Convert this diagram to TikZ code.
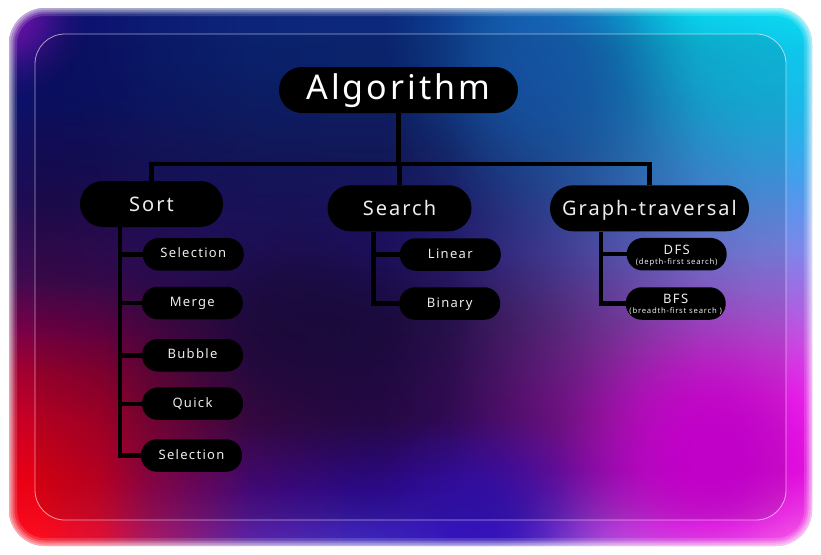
\documentclass[tikz,border=0pt]{standalone}
\usepackage{fontspec}
\setmainfont{Noto Sans}
\newfontfamily\lsfont[LetterSpace=10]{Noto Sans}
\newfontfamily\lsbig[LetterSpace=9]{Noto Sans}
\usetikzlibrary{fadings}
% smooth radial fading (opaque centre -> transparent at the circle's edge)
\pgfdeclareradialshading{blobsh}{\pgfpointorigin}{color(0bp)=(white); color(2.5bp)=(white!97!black);
  color(5bp)=(white!90!black); color(7.5bp)=(white!78!black); color(10bp)=(white!62!black);
  color(12.5bp)=(white!45!black); color(15bp)=(white!30!black); color(17.5bp)=(white!17!black);
  color(20bp)=(white!8!black); color(22.5bp)=(white!2!black); color(25bp)=(black); color(50bp)=(black)}
\pgfdeclarefading{sblob}{\pgfuseshading{blobsh}}
% horizontal fadings
\pgfdeclarehorizontalshading{flsh}{100bp}{color(0bp)=(white); color(29.75bp)=(white);
  color(36.9bp)=(white!85!black); color(42.86bp)=(white!55!black); color(54.76bp)=(white!15!black);
  color(66.67bp)=(white!2!black); color(75bp)=(black); color(100bp)=(black)}
\pgfdeclarefading{fadeL}{\pgfuseshading{flsh}}
\pgfdeclarehorizontalshading{frsh}{100bp}{color(0bp)=(black); color(25bp)=(black);
  color(33bp)=(white!8!black); color(44.25bp)=(white!38!black); color(55.5bp)=(white!72!black);
  color(61.5bp)=(white!88!black); color(68bp)=(white!97!black); color(75bp)=(white); color(100bp)=(white)}
\pgfdeclarefading{fadeR}{\pgfuseshading{frsh}}
% colour columns (bottom = 25bp, top = 75bp)
\definecolor{l0}{HTML}{0C1070}\definecolor{l1}{HTML}{0C1068}\definecolor{l2}{HTML}{1E0C52}
\definecolor{l3}{HTML}{400A50}\definecolor{l4}{HTML}{780048}\definecolor{l5}{HTML}{A00030}
\definecolor{l6}{HTML}{C80024}\definecolor{l7}{HTML}{E80014}\definecolor{l8}{HTML}{FF1020}
\pgfdeclareverticalshading{leftcol}{100bp}{color(0bp)=(l8); color(25bp)=(l8); color(31.68bp)=(l7);
  color(37.09bp)=(l6); color(41.61bp)=(l5); color(45.22bp)=(l4); color(49.73bp)=(l3);
  color(56.95bp)=(l2); color(65.97bp)=(l1); color(75bp)=(l0); color(100bp)=(l0)}
\definecolor{m0}{HTML}{0C2A80}\definecolor{m1}{HTML}{0C2878}\definecolor{m2}{HTML}{141C64}
\definecolor{m3}{HTML}{221470}\definecolor{m4}{HTML}{200E48}\definecolor{m5}{HTML}{2A0A50}
\definecolor{m6}{HTML}{2E0C98}\definecolor{m7}{HTML}{4030C8}
\pgfdeclareverticalshading{midcol}{100bp}{color(0bp)=(m7); color(25bp)=(m7); color(30.78bp)=(m6);
  color(37.09bp)=(m5); color(46.12bp)=(m4); color(52.44bp)=(m3); color(61.46bp)=(m2);
  color(69.58bp)=(m1); color(75bp)=(m0); color(100bp)=(m0)}
\definecolor{r0}{HTML}{00FFFF}\definecolor{r1}{HTML}{10D0F0}\definecolor{r2}{HTML}{20B8EC}
\definecolor{r3}{HTML}{48A0F0}\definecolor{r4}{HTML}{8088EC}\definecolor{r5}{HTML}{A868E4}
\definecolor{r6}{HTML}{D048E4}\definecolor{r7}{HTML}{EC28EC}\definecolor{r8}{HTML}{E818DC}
\definecolor{r9}{HTML}{FF78EC}
\pgfdeclareverticalshading{rightcol}{100bp}{color(0bp)=(r9); color(25bp)=(r9); color(32.58bp)=(r8);
  color(38.9bp)=(r7); color(43.41bp)=(r6); color(47.92bp)=(r5); color(52.44bp)=(r4);
  color(58.75bp)=(r3); color(65.97bp)=(r2); color(70.49bp)=(r1); color(75bp)=(r0); color(100bp)=(r0)}
\definecolor{txt}{HTML}{EDEDED}
\definecolor{bDark}{HTML}{1C0C40}
\definecolor{bBlue}{HTML}{1A5CB8}
\definecolor{bInd}{HTML}{3010B8}
\definecolor{bMag}{HTML}{D800E0}
\definecolor{bPur}{HTML}{6A10A8}
\definecolor{bCyan}{HTML}{10C0E8}
\newcommand\blob[4]{\fill[#1, path fading=sblob, fill opacity=#4] (#2) circle (#3pt);}
\tikzset{
  bigbox/.style={fill=black, rounded corners=22.9pt, minimum height=46pt, inner sep=0pt,
    text=txt, font=\lsfont\fontsize{20}{24}\selectfont, text height=14.3pt, text depth=0pt},
  smallbox/.style={fill=black, rounded corners=16pt, minimum height=32.5pt, minimum width=101pt,
    inner sep=0pt, text=txt, font=\lsfont\fontsize{13}{15}\selectfont, text height=7.3pt, text depth=0pt},
  twoline/.style={text height=0pt, text depth=0pt, minimum width=100pt},
  conn/.style={line width=4.4pt, black, line join=miter, line cap=butt}
}
\newcommand\twol[2]{\makebox[0pt]{#1}\makebox[0pt]{\raisebox{-10pt}{\fontsize{7.7}{8}\selectfont #2}}}
\begin{document}
\begin{tikzpicture}[x=1pt,y=-1pt]
\useasboundingbox (0,0) rectangle (821,554);
% background gradient
\begin{scope}
\clip[rounded corners=36pt] (9,8) rectangle (812,546);
\shade[shading=midcol] (0,0) rectangle (821,554);
\shade[shading=leftcol, path fading=fadeL] (0,0) rectangle (420,554);
\shade[shading=rightcol, path fading=fadeR] (380,0) rectangle (821,554);
\blob{bDark}{300,320}{170}{0.7}
\blob{bBlue}{540,70}{170}{0.8}
\blob{bCyan}{760,60}{150}{0.6}
\blob{bInd}{480,530}{140}{0.9}
\blob{bMag}{710,455}{165}{1}
\blob{bPur}{5,15}{90}{1}
\end{scope}
% soft outer edge
\foreach \w/\o in {16/0.15, 11/0.2, 7/0.25, 3/0.3}
  \draw[white, opacity=\o, line width=\w pt, rounded corners=36pt] (9,8) rectangle (812,546);
% inner glass panel
\fill[black, opacity=0.1, rounded corners=30pt] (35,34) rectangle (786,520);
\draw[white, opacity=0.6, line width=0.8pt, rounded corners=30pt] (35,34) rectangle (786,520);

% nodes
\node[fill=black, rounded corners=22.9pt, minimum height=46pt, minimum width=239pt, inner sep=0pt,
  text=white, font=\lsbig\fontsize{34}{40}\selectfont, text height=18.3pt, text depth=0pt] (alg) at (398.5,90) {Algorithm};
\node[bigbox, minimum width=143pt] (sort) at (151.5,204) {Sort};
\node[bigbox, minimum width=144pt] (search) at (399.5,208.3) {Search};
\node[bigbox, minimum width=199pt] (graph) at (649.5,208.3) {Graph-traversal};

\node[smallbox] (sel1) at (193.3,254.3) {Selection};
\node[smallbox] (merge) at (192.3,303) {Merge};
\node[smallbox] (bubble) at (192.5,355.3) {Bubble};
\node[smallbox] (quick) at (192.5,403.7) {Quick};
\node[smallbox] (sel2) at (191.5,455.5) {Selection};

\node[smallbox] (linear) at (450.3,254.5) {Linear};
\node[smallbox] (binary) at (449.7,303.5) {Binary};

\node[smallbox, twoline] (dfs) at (676.7,254.2) {\twol{DFS}{(depth-first search)}};
\node[smallbox, twoline] (bfs) at (675.7,303.5) {\twol{BFS}{(breadth-first search )}};

% connectors
\coordinate (bar) at (400,164);
\coordinate (st) at (120,227);
\coordinate (set) at (373.3,231.7);
\coordinate (gt) at (601,231.7);
\draw[conn] (alg.south) -- (alg.south |- bar);
\draw[conn] (sort.north) -- (sort.north |- bar) -- (graph.north |- bar) -- (graph.north);
\draw[conn] (search.north) -- (search.north |- bar);

\draw[conn] (st) |- (sel2.west);
\foreach \n in {sel1,merge,bubble,quick}
  \draw[conn] (\n.west -| st) -- (\n.west);
\draw[conn] (set) |- (binary.west);
\draw[conn] (linear.west -| set) -- (linear.west);
\draw[conn] (gt) |- (bfs.west);
\draw[conn] (dfs.west -| gt) -- (dfs.west);
\end{tikzpicture}
\end{document}
